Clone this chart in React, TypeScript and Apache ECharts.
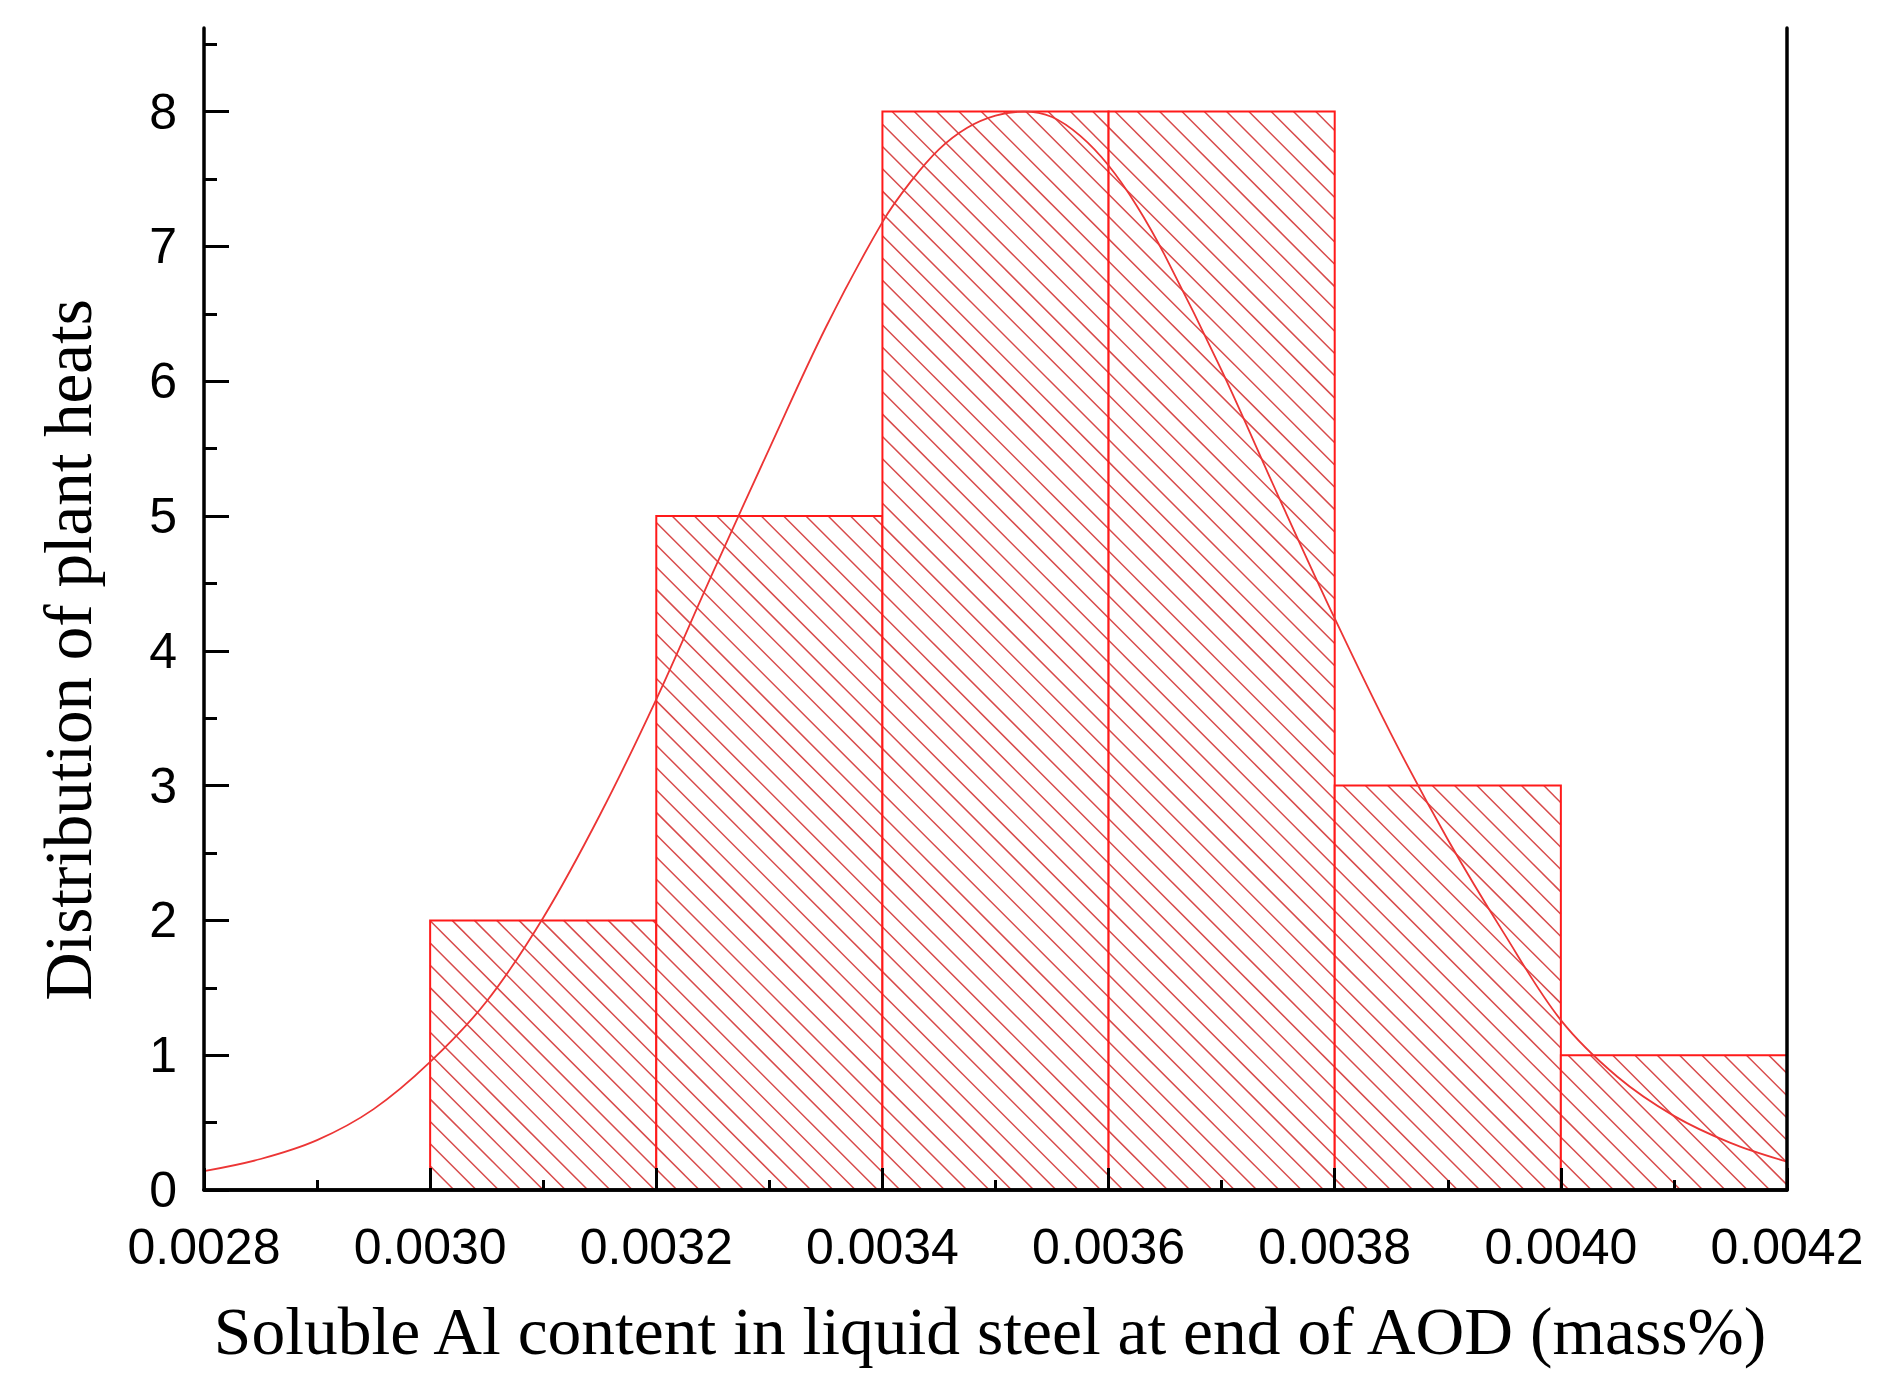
import React, { useEffect, useRef } from "react";
import * as echarts from "echarts";

// Histogram bins (mass%) and counts
const BIN_START = [0.003, 0.0032, 0.0034, 0.0036, 0.0038, 0.004];
const BIN_END = [0.0032, 0.0034, 0.0036, 0.0038, 0.004, 0.0042];
const COUNTS = [2, 5, 8, 8, 3, 1];

// Fitted curve
const CURVE_X = [
  0.0028, 0.00285, 0.0029, 0.00295, 0.003, 0.00305, 0.0031, 0.00315, 0.0032,
  0.00325, 0.0033, 0.00335, 0.0034, 0.003425, 0.00345, 0.003475, 0.0035,
  0.003525, 0.00355, 0.003575, 0.0036, 0.003625, 0.00365, 0.0037, 0.00375,
  0.0038, 0.00385, 0.0039, 0.00395, 0.004, 0.00405, 0.0041, 0.00415, 0.0042,
];
const CURVE_Y = [
  0.14, 0.23, 0.37, 0.6, 0.95, 1.4, 2.02, 2.78, 3.64, 4.58, 5.5, 6.4, 7.18,
  7.48, 7.72, 7.88, 7.97, 8.0, 7.96, 7.82, 7.6, 7.3, 6.93, 6.08, 5.15, 4.24,
  3.38, 2.6, 1.9, 1.26, 0.84, 0.55, 0.35, 0.21,
];

// Axis ticks
const X_MIN = 0.0028;
const X_MAX = 0.0042;
const X_INTERVAL = 0.0002;
const Y_TICKS = [0, 1, 2, 3, 4, 5, 6, 7, 8];
const Y_MINOR = [0.5, 1.5, 2.5, 3.5, 4.5, 5.5, 6.5, 7.5, 8.5];
const Y_MAX = 8.62;

const X_TITLE = "Soluble Al content in liquid steel at end of AOD (mass%)";
const Y_TITLE = "Distribution of plant heats";

export default function App() {
  const ref = useRef<HTMLDivElement>(null);

  useEffect(() => {
    document.body.style.margin = "0";
    if (!ref.current) return;
    const chart = echarts.init(ref.current, null, { renderer: "svg" });

    const HATCH = 22.3;
    const PHASE = 0;

    const renderItem = (params: any, api: any) => {
      const x0 = api.value(0);
      const x1 = api.value(1);
      const v = api.value(2);
      const p0 = api.coord([x0, v]);
      const p1 = api.coord([x1, 0]);
      const left = p0[0];
      const top = p0[1];
      const right = p1[0];
      const bottom = p1[1];
      const children: any[] = [
        {
          type: "rect",
          shape: { x: left, y: top, width: right - left, height: bottom - top },
          style: { fill: "#ffffff", stroke: "none" },
        },
      ];
      const kStart = Math.ceil((top - right - PHASE) / HATCH);
      const kEnd = Math.floor((bottom - left - PHASE) / HATCH);
      for (let k = kStart; k <= kEnd; k++) {
        const c = k * HATCH + PHASE;
        const xs = Math.max(left, top - c);
        const xe = Math.min(right, bottom - c);
        if (xe - xs > 0.5) {
          children.push({
            type: "line",
            shape: { x1: xs, y1: xs + c, x2: xe, y2: xe + c },
            style: { stroke: "#d84a4a", lineWidth: 1.5 },
          });
        }
      }
      children.push({
        type: "rect",
        shape: { x: left, y: top, width: right - left, height: bottom - top },
        style: { fill: "none", stroke: "#ff1a1a", lineWidth: 2 },
      });
      return { type: "group", children };
    };

    const labelFont = {
      fontFamily: "'Liberation Sans', Arial, sans-serif",
      fontSize: 50,
      lineHeight: 40,
      color: "#000",
    };

    const option: any = {
      animation: false,
      backgroundColor: "#ffffff",
      grid: { left: 204, top: 28, width: 1583, height: 1162, containLabel: false },
      xAxis: [
        {
          type: "value",
          min: X_MIN,
          max: X_MAX,
          interval: X_INTERVAL,
          position: "bottom",
          z: 10,
          axisLine: { show: true, lineStyle: { color: "#000", width: 3.5 } },
          axisTick: { show: true, inside: true, length: 22, lineStyle: { color: "#000", width: 3 } },
          minorTick: { show: true, splitNumber: 2, length: 10, lineStyle: { color: "#000", width: 3 } },
          splitLine: { show: false },
          minorSplitLine: { show: false },
          axisLabel: {
            ...labelFont,
            margin: 37,
            formatter: (v: number) => v.toFixed(4),
          },
        },
        {
          type: "value",
          min: X_MIN,
          max: X_MAX,
          position: "top",
          z: 10,
          axisLine: { show: true, lineStyle: { color: "#000", width: 3.5 } },
          axisTick: { show: false },
          axisLabel: { show: false },
          splitLine: { show: false },
        },
      ],
      yAxis: [
        {
          type: "value",
          min: 0,
          max: Y_MAX,
          interval: 1,
          position: "left",
          z: 10,
          axisLine: { show: true, lineStyle: { color: "#000", width: 3.5 } },
          axisTick: {
            show: true,
            inside: true,
            length: 25,
            customValues: Y_TICKS,
            lineStyle: { color: "#000", width: 3 },
          },
          splitLine: { show: false },
          axisLabel: { ...labelFont, margin: 27, customValues: Y_TICKS },
        },
        {
          type: "value",
          min: 0,
          max: Y_MAX,
          position: "left",
          z: 10,
          axisLine: { show: false },
          axisTick: {
            show: true,
            inside: true,
            length: 13,
            customValues: Y_MINOR,
            lineStyle: { color: "#000", width: 3 },
          },
          axisLabel: { show: false },
          splitLine: { show: false },
        },
        {
          type: "value",
          min: 0,
          max: Y_MAX,
          position: "right",
          z: 10,
          axisLine: { show: true, lineStyle: { color: "#000", width: 3.5 } },
          axisTick: { show: false },
          axisLabel: { show: false },
          splitLine: { show: false },
        },
      ],
      graphic: [
        {
          type: "text",
          x: 990,
          y: 1331,
          style: {
            text: X_TITLE,
            fontFamily: "'Liberation Serif', 'Times New Roman', serif",
            fontSize: 67.5,
            fill: "#000",
            textAlign: "center",
            textVerticalAlign: "middle",
          },
        },
        {
          type: "text",
          x: 68,
          y: 650,
          rotation: Math.PI / 2,
          style: {
            text: Y_TITLE,
            fontFamily: "'Liberation Serif', 'Times New Roman', serif",
            fontSize: 67,
            fill: "#000",
            textAlign: "center",
            textVerticalAlign: "middle",
          },
        },
      ],
      series: [
        {
          type: "custom",
          xAxisIndex: 0,
          yAxisIndex: 0,
          z: 2,
          renderItem,
          data: COUNTS.map((c, i) => [BIN_START[i], BIN_END[i], c]),
        },
        {
          type: "line",
          xAxisIndex: 0,
          yAxisIndex: 0,
          z: 3,
          smooth: 0.35,
          symbol: "none",
          lineStyle: { color: "#ec3535", width: 1.8 },
          data: CURVE_X.map((x, i) => [x, CURVE_Y[i]]),
        },
      ],
    };

    chart.setOption(option);
    return () => chart.dispose();
  }, []);

  return <div ref={ref} style={{ width: 1903, height: 1394 }} />;
}
